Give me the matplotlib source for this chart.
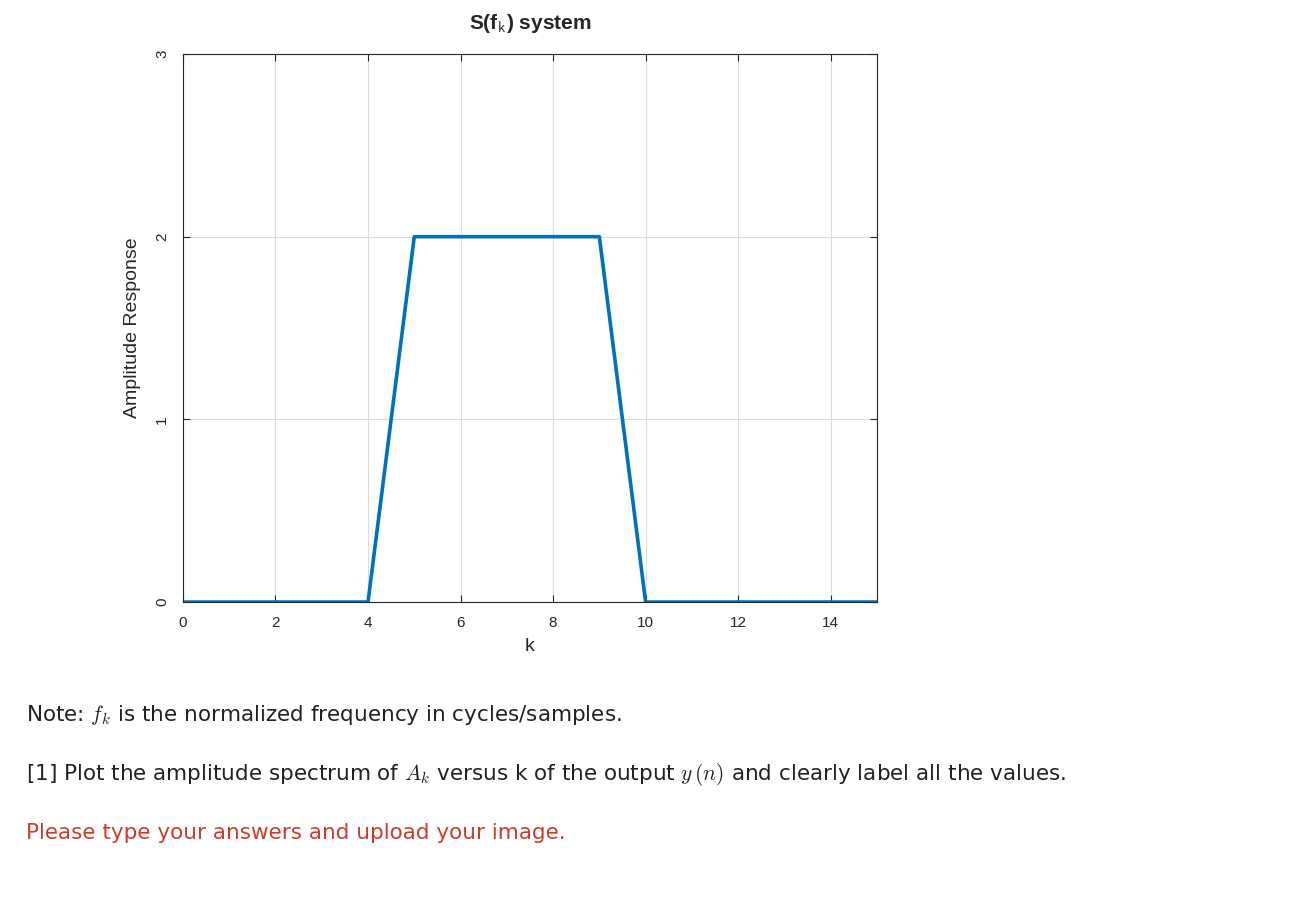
import matplotlib
matplotlib.use("Agg")
import matplotlib.pyplot as plt

plt.rcParams["mathtext.fontset"] = "cm"

k = [0, 4, 5, 9, 10, 15]
amp = [0, 0, 2, 2, 0, 0]
xticks = [0, 2, 4, 6, 8, 10, 12, 14]
yticks = [0, 1, 2, 3]

fig = plt.figure(figsize=(13.04, 9.06), dpi=100)
ax = fig.add_axes([0.1403, 0.3355, 0.5322, 0.6049])
ax.plot(k, amp, color="#0072BD", lw=2.6)
ax.set_xlim(0, 15)
ax.set_ylim(0, 3)
ax.set_xticks(xticks)
ax.set_yticks(yticks)
ax.grid(True, color="#dcdcdc", lw=0.8)
ax.set_axisbelow(True)
ax.tick_params(direction="in", top=True, right=True, labelsize=11, colors="#262626", length=5, pad=10)
for lab in ax.get_yticklabels():
    lab.set_rotation(90)
    lab.set_va("center")
    lab.set_family("Liberation Sans")
for lab in ax.get_xticklabels():
    lab.set_family("Liberation Sans")
for s in ax.spines.values():
    s.set_color("#262626")
ax.set_xlabel("k", fontsize=14, color="#262626", family="Liberation Sans", labelpad=6)
ax.set_ylabel("Amplitude Response", fontsize=14, color="#262626", family="Liberation Sans", labelpad=10)
ax.set_title(r"S(f$_{\mathsf{k}}$) system", fontsize=15, fontweight="bold", color="#262626",
             family="Liberation Sans", pad=18)

fs = 15.5
fig.text(0.02, 1 - 715/906, r"Note: $f_k$ is the normalized frequency in cycles/samples.",
         fontsize=fs, va="center", color="#222222")
fig.text(0.02, 1 - 774/906,
         r"[1] Plot the amplitude spectrum of $A_k$ versus k of the output $y\,(n)$ and clearly label all the values.",
         fontsize=fs, va="center", color="#222222")
fig.text(0.02, 1 - 833/906, "Please type your answers and upload your image.",
         fontsize=fs, va="center", color="#d03a2a")
fig.savefig("out.png", dpi=100)
